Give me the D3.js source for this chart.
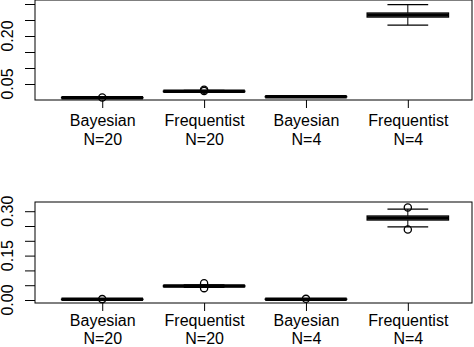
<!DOCTYPE html>
<html>
<head>
<meta charset="utf-8">
<script src="https://cdn.jsdelivr.net/npm/d3@7.9.0/dist/d3.min.js"></script>
<style>
  body { margin: 0; background: #fff; }
  svg { display: block; font-family: "Liberation Sans", Arial, sans-serif; }
</style>
</head>
<body>
<svg id="chart" width="474" height="347"></svg>
<script>
// groups along the x axis
const groups = ["Bayesian\nN=20", "Frequentist\nN=20", "Bayesian\nN=4", "Frequentist\nN=4"];

// top panel: [lower whisker, q1, median, q3, upper whisker]
const topStats = [
  [0.005, 0.0065, 0.0072, 0.008, 0.0095],
  [0.024, 0.026, 0.027, 0.028, 0.030],
  [0.008, 0.0095, 0.0103, 0.011, 0.0125],
  [0.234, 0.259, 0.266, 0.272, 0.298]
];
const topOutliers = [[0.008], [0.032, 0.028], [], []];
const topTicks = [0.05, 0.10, 0.15, 0.20, 0.25, 0.30];
const topLabels = [0.05, 0.20];

// bottom panel
const botStats = [
  [0.0005, 0.0015, 0.0022, 0.003, 0.004],
  [0.043, 0.045, 0.047, 0.049, 0.051],
  [0.001, 0.002, 0.0028, 0.0035, 0.0045],
  [0.247, 0.270, 0.277, 0.284, 0.307]
];
const botOutliers = [[0.003], [0.057, 0.040], [0.004], [0.3125, 0.238]];
const botTicks = [0.00, 0.05, 0.10, 0.15, 0.20, 0.25, 0.30];
const botLabels = [0.00, 0.15, 0.30];

const svg = d3.select("#chart");
const left = 35, right = 472;

const x = d3.scaleLinear().domain([0.34, 4.63]).range([left, right]);
const boxW = x(1.4) - x(1);   // boxwex 0.8 -> half width 0.4

function panel(stats, outliers, ticks, labels, yTop, yBot, yDomain, labY) {
  const y = d3.scaleLinear().domain(yDomain).range([yBot, yTop]);
  const g = svg.append("g");

  // y axis
  const yAxis = d3.axisLeft(y).tickValues(ticks).tickSize(10)
    .tickFormat(d => labels.some(l => Math.abs(l - d) < 1e-9) ? d3.format(".2f")(d) : "");
  const ya = g.append("g").attr("transform", `translate(${left},0)`).call(yAxis);
  ya.select(".domain").remove();
  ya.selectAll(".tick").attr("transform", null);
  ya.selectAll(".tick line").attr("stroke", "#000")
    .attr("y1", d => y(d) + 0.5).attr("y2", d => y(d) + 0.5);
  ya.selectAll(".tick text")
    .attr("font-size", 16).attr("fill", "#000")
    .attr("text-anchor", "middle").attr("dy", 0)
    .attr("x", -22).attr("y", d => y(d))
    .attr("transform", d => `rotate(-90, -22, ${y(d)})`);

  // x axis
  const xAxis = d3.axisBottom(x).tickValues([1, 2, 3, 4]).tickSize(8).tickFormat("");
  const xa = g.append("g").attr("transform", `translate(0,${yBot})`).call(xAxis);
  xa.select(".domain").remove();
  xa.selectAll("line").attr("stroke", "#000");
  xa.selectAll(".tick").each(function(d) {
    const parts = groups[d - 1].split("\n");
    const t = d3.select(this).append("text")
      .attr("fill", "#000").attr("font-size", 16).attr("text-anchor", "middle");
    parts.forEach((p, i) => t.append("tspan").attr("x", 0).attr("y", labY[i]).text(p));
  });

  // boxes
  stats.forEach((s, i) => {
    const cx = x(i + 1);
    const bx = g.append("g");
    // whiskers
    bx.append("line").attr("x1", cx).attr("x2", cx).attr("y1", y(s[3])).attr("y2", y(s[4])).attr("stroke", "#000");
    bx.append("line").attr("x1", cx).attr("x2", cx).attr("y1", y(s[1])).attr("y2", y(s[0])).attr("stroke", "#000");
    [s[0], s[4]].forEach(v => {
      bx.append("line").attr("x1", cx - boxW / 2).attr("x2", cx + boxW / 2)
        .attr("y1", y(v)).attr("y2", y(v)).attr("stroke", "#000").attr("stroke-width", 1.2);
    });
    bx.append("rect").attr("x", cx - boxW).attr("width", 2 * boxW)
      .attr("y", y(s[3])).attr("height", Math.max(0, y(s[1]) - y(s[3])))
      .attr("fill", "#fff").attr("stroke", "#000").attr("stroke-width", 1.2);
    bx.append("line").attr("x1", cx - boxW).attr("x2", cx + boxW)
      .attr("y1", y(s[2])).attr("y2", y(s[2])).attr("stroke", "#000").attr("stroke-width", 3.5);
    outliers[i].forEach(v => {
      bx.append("circle").attr("cx", cx).attr("cy", y(v)).attr("r", 3.6)
        .attr("fill", "none").attr("stroke", "#000").attr("stroke-width", 1.3);
    });
  });

  // frame
  g.append("rect").attr("x", left).attr("y", yTop).attr("width", right - left).attr("height", yBot - yTop)
    .attr("fill", "none").attr("stroke", "#000").attr("stroke-width", 1);
}

// top panel: y(v) = 100 - 320 v ; frame from y=0 to 100
panel(topStats, topOutliers, topTicks, topLabels, 0, 100, [0, 0.3125], [26, 44.5]);
// bottom panel: y(v) = 300 - 296 v ; frame from y=202 to 303
panel(botStats, botOutliers, botTicks, botLabels, 202, 303, [-0.0101, 0.3311], [23, 40.5]);
</script>
</body>
</html>
